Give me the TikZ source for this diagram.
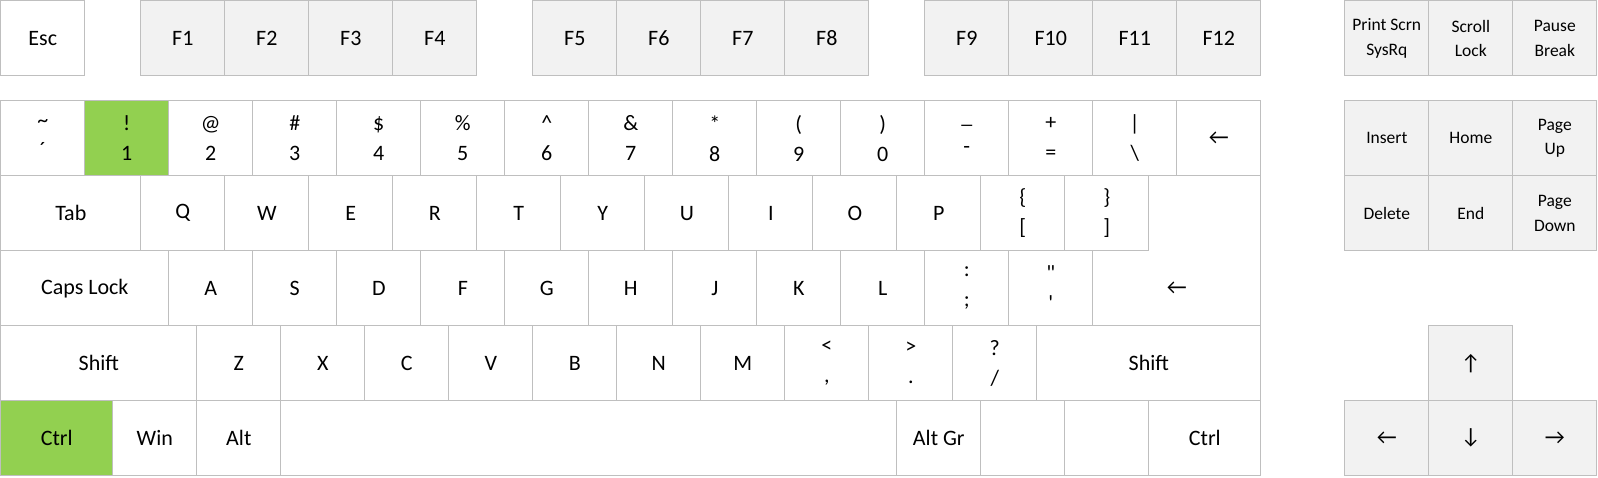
\documentclass[tikz,border=0pt]{standalone}
\usepackage{fontspec}
\setmainfont{Carlito}
\definecolor{keyline}{HTML}{BFBFBF}
\definecolor{keygray}{HTML}{F2F2F2}
\definecolor{keygreen}{HTML}{92D050}
\tikzset{
  key/.style={draw=keyline, line width=1.2pt, fill=white, inner sep=0pt, align=center,
    font=\fontsize{22}{30}\selectfont, text=black},
  gkey/.style={key, fill=keygray},
  hkey/.style={key, fill=keygreen},
  navkey/.style={gkey, font=\fontsize{17.5}{24.3}\selectfont},
}
\newcommand{\kb}[6][]{\node[key,#1,minimum width=#4pt,minimum height=75pt] (#2) at ({#3+#4/2},{#5+37.5}) {#6};}
\begin{document}
\begin{tikzpicture}[x=1pt,y=-1pt]
\useasboundingbox (-0.8,-0.8) rectangle (1597.2,476.2);
% Function row
\kb{esc}{0}{84}{0}{Esc}
\kb[gkey]{f1}{140}{84}{0}{F1}
\kb[gkey]{f2}{224}{84}{0}{F2}
\kb[gkey]{f3}{308}{84}{0}{F3}
\kb[gkey]{f4}{392}{84}{0}{F4}
\kb[gkey]{f5}{532}{84}{0}{F5}
\kb[gkey]{f6}{616}{84}{0}{F6}
\kb[gkey]{f7}{700}{84}{0}{F7}
\kb[gkey]{f8}{784}{84}{0}{F8}
\kb[gkey]{f9}{924}{84}{0}{F9}
\kb[gkey]{f10}{1008}{84}{0}{F10}
\kb[gkey]{f11}{1092}{84}{0}{F11}
\kb[gkey]{f12}{1176}{84}{0}{F12}
\kb[navkey]{prt}{1344}{84}{0}{Print Scrn\\SysRq}
\kb[navkey]{scr}{1428}{84}{0}{Scroll\\Lock}
\kb[navkey]{pau}{1512}{84}{0}{Pause\\Break}
% Number row
\kb{tilde}{0}{84}{100}{\textasciitilde\\´}
\kb[hkey]{n1}{84}{84}{100}{!\\1}
\kb{n2}{168}{84}{100}{@\\2}
\kb{n3}{252}{84}{100}{\#\\3}
\kb{n4}{336}{84}{100}{\$\\4}
\kb{n5}{420}{84}{100}{\%\\5}
\kb{n6}{504}{84}{100}{\textasciicircum\\6}
\kb{n7}{588}{84}{100}{\&\\7}
\kb{n8}{672}{84}{100}{*\\8}
\kb{n9}{756}{84}{100}{(\\9}
\kb{n0}{840}{84}{100}{)\\0}
\kb{minus}{924}{84}{100}{\_\\-}
\kb{equal}{1008}{84}{100}{+\\=}
\kb{bslash}{1092}{84}{100}{|\\\textbackslash}
\kb{bksp}{1176}{84}{100}{←}
\kb[navkey]{ins}{1344}{84}{100}{Insert}
\kb[navkey]{home}{1428}{84}{100}{Home}
\kb[navkey]{pgup}{1512}{84}{100}{Page\\Up}
\kb[navkey]{del}{1344}{84}{175}{Delete}
\kb[navkey]{end}{1428}{84}{175}{End}
\kb[navkey]{pgdn}{1512}{84}{175}{Page\\Down}
% Tab row
\kb{tab}{0}{140}{175}{Tab}
\kb{q}{140}{84}{175}{Q}
\kb{w}{224}{84}{175}{W}
\kb{e}{308}{84}{175}{E}
\kb{r}{392}{84}{175}{R}
\kb{t}{476}{84}{175}{T}
\kb{y}{560}{84}{175}{Y}
\kb{u}{644}{84}{175}{U}
\kb{i}{728}{84}{175}{I}
\kb{o}{812}{84}{175}{O}
\kb{p}{896}{84}{175}{P}
\kb{lbr}{980}{84}{175}{\{\\{[}}
\kb{rbr}{1064}{84}{175}{\}\\{]}}
% Enter (L-shaped)
\draw[draw=keyline, line width=1.2pt, fill=white] (1148,175) -- (1260,175) -- (1260,325) -- (1092,325) -- (1092,250) -- (1148,250) -- cycle;
\node[font=\fontsize{22}{30}\selectfont, inner sep=0pt] (enter) at (1176,287.5) {←};
% Home row
\kb{caps}{0}{168}{250}{Caps Lock}
\kb{a}{168}{84}{250}{A}
\kb{s}{252}{84}{250}{S}
\kb{d}{336}{84}{250}{D}
\kb{f}{420}{84}{250}{F}
\kb{g}{504}{84}{250}{G}
\kb{h}{588}{84}{250}{H}
\kb{j}{672}{84}{250}{J}
\kb{k}{756}{84}{250}{K}
\kb{l}{840}{84}{250}{L}
\kb{semi}{924}{84}{250}{:\\;}
\kb{quote}{1008}{84}{250}{\textquotedbl\\\textquotesingle}
% Shift row
\kb{lshift}{0}{196}{325}{Shift}
\kb{z}{196}{84}{325}{Z}
\kb{x}{280}{84}{325}{X}
\kb{c}{364}{84}{325}{C}
\kb{v}{448}{84}{325}{V}
\kb{b}{532}{84}{325}{B}
\kb{n}{616}{84}{325}{N}
\kb{m}{700}{84}{325}{M}
\kb{comma}{784}{84}{325}{<\\,}
\kb{period}{868}{84}{325}{>\\.}
\kb{slash}{952}{84}{325}{?\\/}
\kb{rshift}{1036}{224}{325}{Shift}
\kb[gkey]{up}{1428}{84}{325}{↑}
% Bottom row
\kb[hkey]{lctrl}{0}{112}{400}{Ctrl}
\kb{win}{112}{84}{400}{Win}
\kb{lalt}{196}{84}{400}{Alt}
\kb{space}{280}{616}{400}{}
\kb{altgr}{896}{84}{400}{Alt Gr}
\kb{blank1}{980}{84}{400}{}
\kb{blank2}{1064}{84}{400}{}
\kb{rctrl}{1148}{112}{400}{Ctrl}
\kb[gkey]{left}{1344}{84}{400}{←}
\kb[gkey]{down}{1428}{84}{400}{↓}
\kb[gkey]{right}{1512}{84}{400}{→}
\end{tikzpicture}
\end{document}
